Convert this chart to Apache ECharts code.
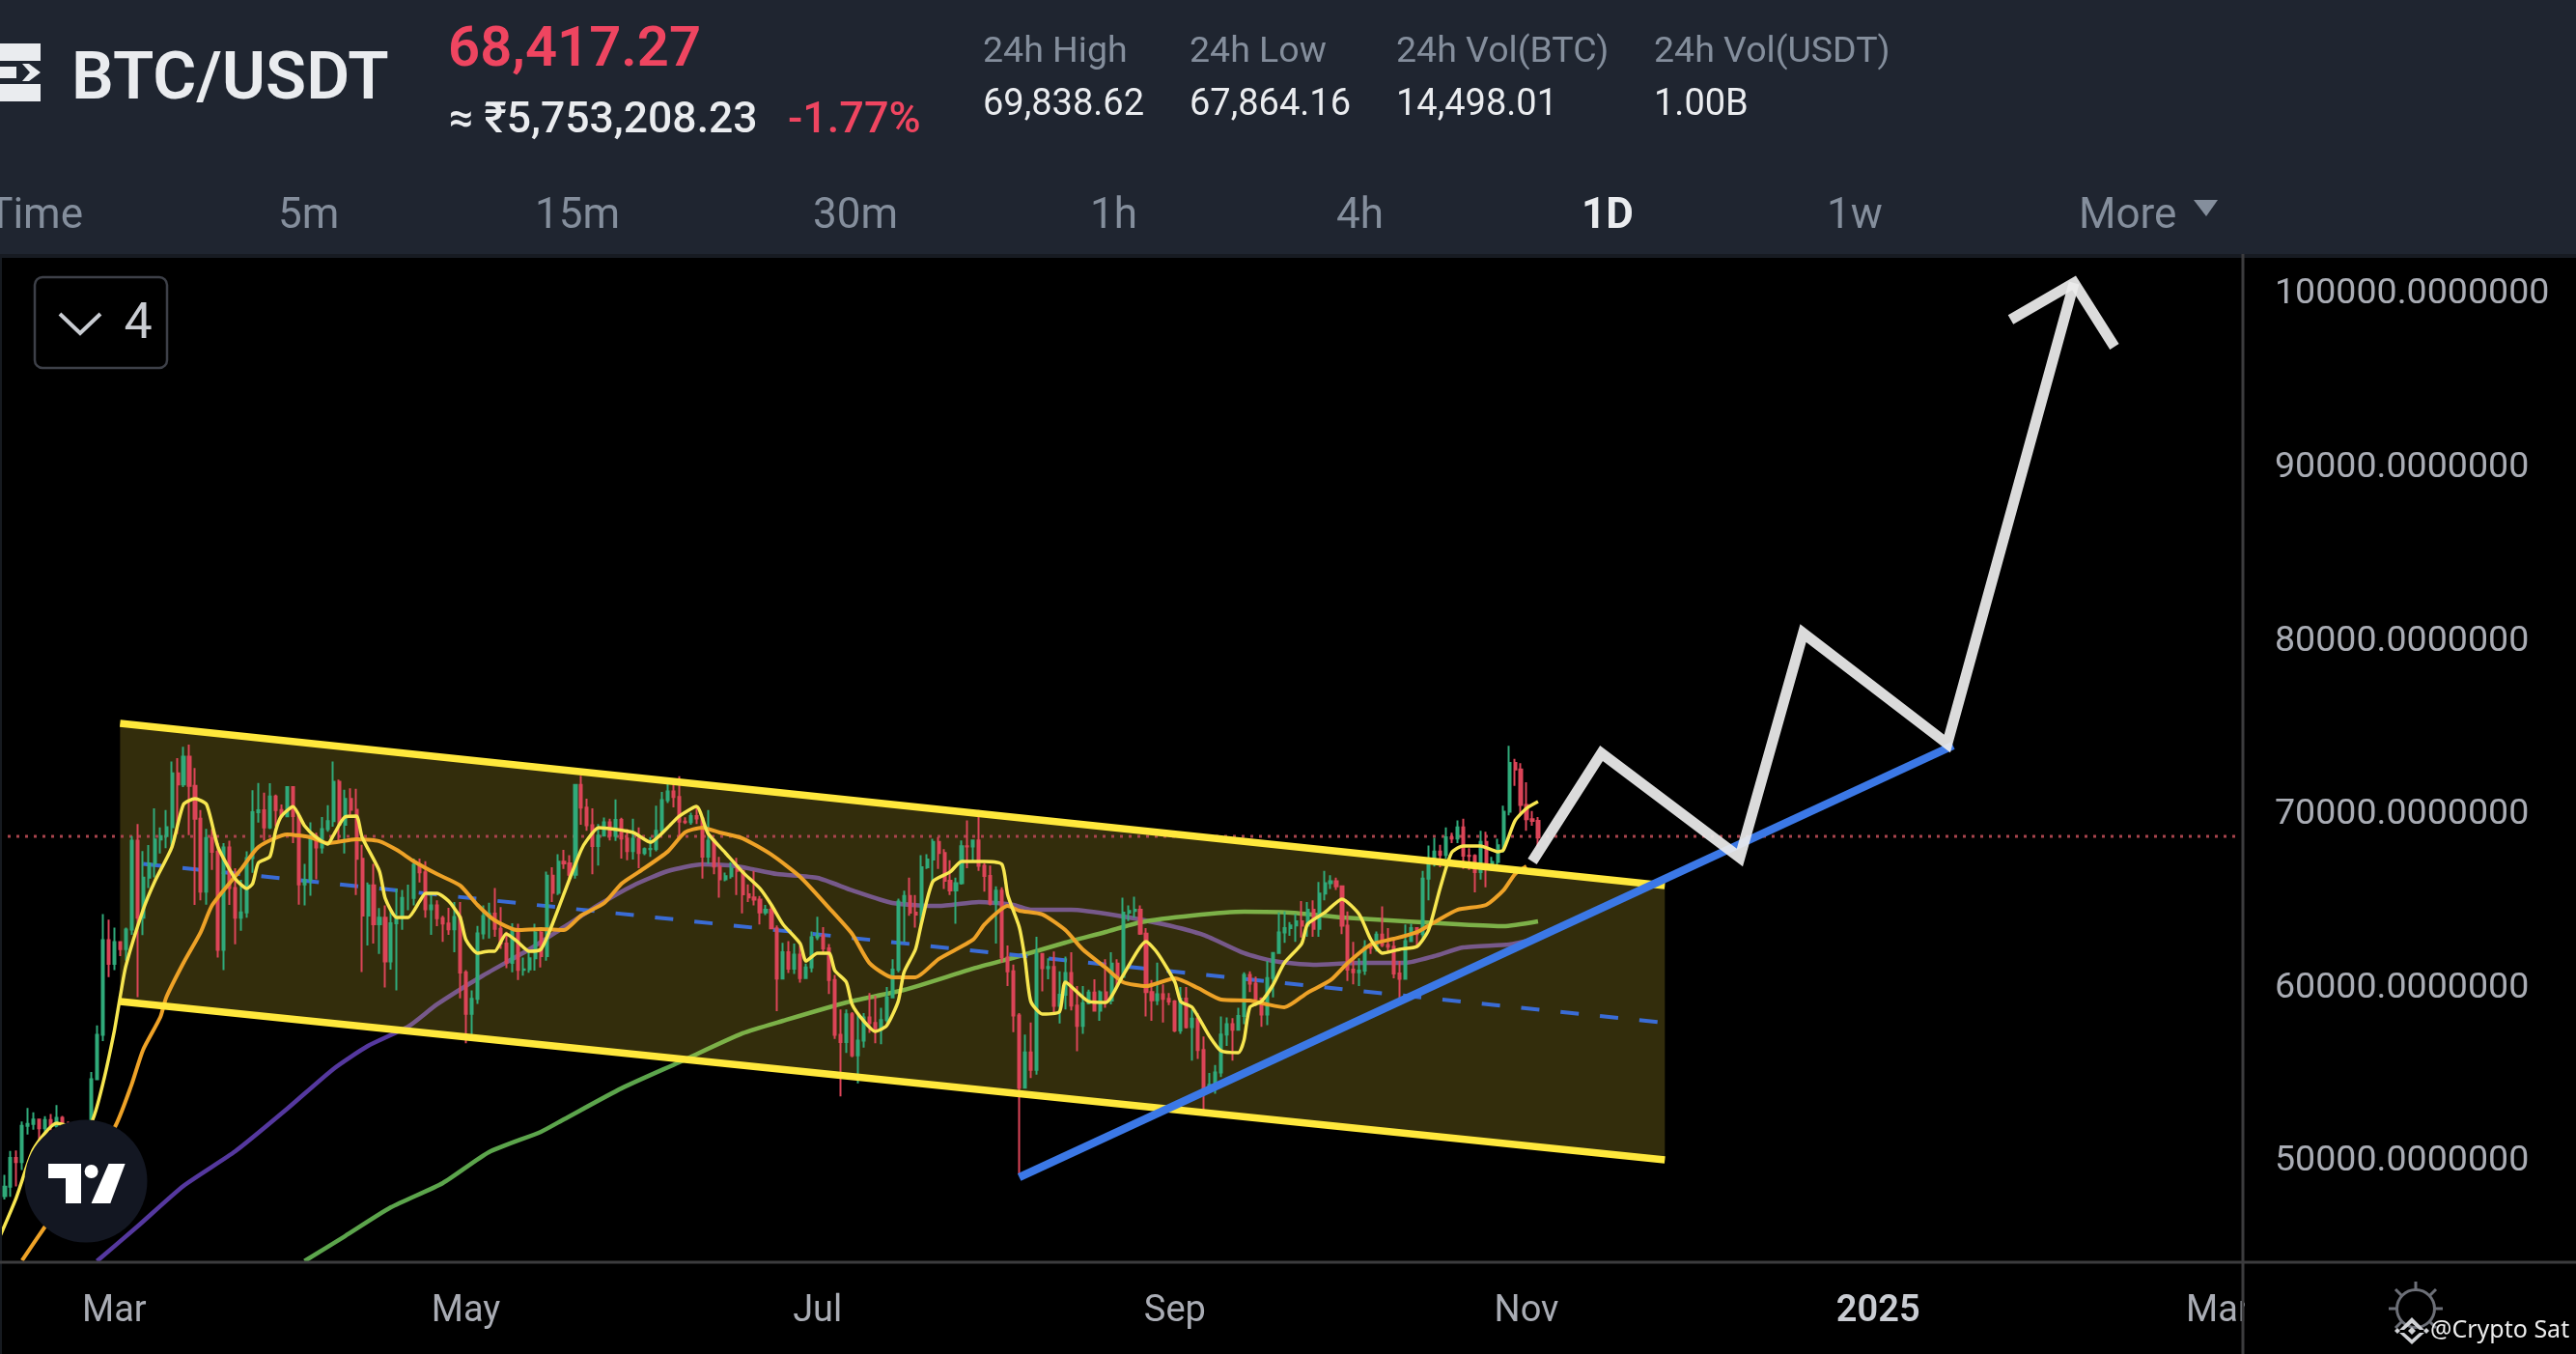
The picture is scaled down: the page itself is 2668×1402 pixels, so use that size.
<!DOCTYPE html>
<html><head><meta charset="utf-8">
<style>html,body{margin:0;padding:0;background:#000}#c{width:2668px;height:1402px}</style>
<script src="https://cdn.jsdelivr.net/npm/echarts@6/dist/echarts.min.js"></script>
</head><body><div id="c"></div>
<script>
const firstDate = '2024-02-10';
const dayCount = 389;
const xTickDates = ['2024-03-01','2024-05-01','2024-07-01','2024-09-01','2024-11-01','2025-01-01','2025-03-01'];
const xTickLabels = ['Mar','May','Jul','Sep','Nov','2025','Mar'];
const yTickValues = [50000,60000,70000,80000,90000,100000];
const firstOpen = 47150;
const closes = [
47750,48290,49950,49700,51800,51900,52150,51650,52130,51780,52260,51850,51320,50740,51570,51730,54480,57040,62500,61130,
62390,61990,63110,68240,63800,66100,66930,68300,68500,69020,72120,71480,73080,71390,69500,65300,68390,67600,61940,67840,65500,63800,64100,67230,69880,69990,69000,70780,70000,69640,71330,
69650,65710,65980,68500,67840,68900,69360,71630,69150,70640,70010,67190,63920,65660,63420,63790,61280,63470,63820,64940,64940,66840,66410,64280,64500,63770,63460,63120,63840,60640,
58250,59120,62890,63890,64030,63160,62310,61190,63070,60790,60820,61450,62940,61580,66220,65230,67020,66920,66270,71450,70140,69120,67930,68530,69290,68510,69430,68360,67630,68350,67530,
67750,67760,68800,70570,71080,70760,69340,69310,69650,69510,67320,68240,66750,66010,66190,66640,66490,65150,64960,64840,64100,64250,63180,60280,61800,60860,61670,60320,60920,62670,
62770,62020,60200,57040,56630,58230,55860,56710,58050,57720,57340,57890,59200,60800,64720,65040,64090,63970,66710,67150,68160,67530,65930,65370,65780,67910,67900,68250,66780,66200,64620,
65350,61500,60700,58160,53990,56030,55030,61710,60880,60950,58710,59350,60610,58730,57560,58870,59480,58440,59490,59020,61150,60380,64090,64180,64250,62880,59500,59030,59380,59120,58970,
57300,59130,57490,57970,56160,53950,54160,54870,57050,57650,57340,58130,60500,60000,59130,58210,60310,61760,62950,63200,63350,63580,63340,64260,63150,65180,65790,65890,65600,63330,
60800,60650,60750,62090,62060,62820,62220,62130,60580,60270,62450,63200,62850,66050,67040,67610,67420,68430,68360,69000,67370,67360,66430,68160,66640,67010,67970,69910,72720,72340,70290,
69480,69370,68417];
const highs = [
48170,48970,50350,50370,52040,52820,52580,52200,52350,52480,52990,52370,52050,51550,51950,51950,54900,57590,64000,63680,
63230,62430,63230,68500,69200,67640,67980,70100,69000,70000,72800,73000,73650,73777,72420,70000,68920,68900,68100,68100,68240,66650,65980,67620,71150,71560,71000,71550,70900,70320,71370,
71340,69670,66900,69290,68700,69600,70280,72800,71750,71170,71250,71230,68000,65830,66900,64350,64500,64300,65480,65400,65700,67200,67200,67050,65280,64800,63900,64370,64700,64700,
60780,59600,63320,64500,64650,65500,64400,62980,63470,63450,61500,61850,63440,63100,66450,66700,67450,67700,67400,71500,71980,70650,70100,69200,69570,69500,70620,69550,68900,69500,69000,
67850,68450,70250,71050,71750,71650,71950,69580,69850,70150,69550,70000,68370,67300,66400,67000,67250,66500,65720,66500,65050,64530,64500,63350,62350,62450,62300,62200,61150,63000,
63850,63250,62280,60500,58500,58500,58350,58250,58300,59450,59300,58600,59800,61400,64900,65350,66100,65100,67400,67450,68350,68450,67750,67100,66100,68250,69400,68300,70000,66950,66800,
65600,65550,62200,61100,58300,57050,57750,62700,61750,61450,61850,60700,61550,61800,59850,59850,59650,60250,59600,61400,61800,61400,64950,64500,65000,64500,63200,60200,61200,59950,59450,
59050,59800,59800,58500,58300,56950,54850,55300,58100,58050,58000,58600,60650,60700,60400,59200,61300,61800,64100,64150,63550,64000,64750,64700,64800,65850,66500,66250,66100,65650,
64150,62400,61450,62500,62350,63000,64450,63200,62550,61300,63400,63450,63250,66500,67950,68400,68000,69000,68700,69400,69500,67800,67450,68800,68750,67300,68350,70250,73700,72950,72700,
71600,69950,69600];
const lows = [
46800,47550,47700,48300,49250,51300,51570,50620,51180,51550,50900,50630,50930,50520,50700,51280,50900,54450,56680,60370,
60770,61580,61320,62800,59220,62790,65500,66120,67500,67800,67900,68620,71330,68550,64530,64800,64550,66550,61500,60780,64530,62260,63040,63800,66380,69280,68240,68900,69050,69550,69600,
68100,64550,64500,65060,66010,67500,68750,69040,68200,67500,69550,65100,60660,62200,62300,61700,59770,60800,59600,63100,64230,64500,65820,63800,62800,63300,62400,62800,61800,59150,
56550,56950,58830,62560,62600,62700,62000,60880,60650,60200,60450,60620,60750,60920,61320,64700,65100,66600,65900,66050,69150,68800,66300,66800,68500,68250,68220,67200,67100,67150,66650,
67400,67300,67620,68600,70400,70150,68500,69200,69150,69200,66050,66900,66300,64950,65900,66050,65100,64050,64700,64500,63400,63950,63150,58400,60250,60600,60550,60050,60300,60650,
62500,61800,59400,56800,53500,56000,55750,54250,56300,57150,56550,56500,57750,59250,60650,62400,63900,63230,63300,66600,65800,66600,65450,65100,63450,65700,66650,67050,66500,65300,64500,
62300,61200,59850,57200,49000,53950,54550,54750,59550,60250,58300,57700,58500,58450,56100,57100,58800,58400,57850,58600,58800,59800,60350,63600,63800,62800,58100,57850,58750,57750,58750,
57200,57100,57400,55550,55650,52550,53750,53650,54600,56400,55550,57300,57650,59500,58700,57500,57600,59200,61700,62350,62750,62400,62650,62700,62700,62700,64800,65450,65400,62850,
60150,59950,59850,60500,61700,61850,62100,61850,60300,58900,60400,62400,62050,62450,64800,66750,66700,67200,68100,68100,66600,66550,65250,66000,65550,66500,66850,67550,69700,71400,69700,
68800,69100,67900];
const ma7Days = [0,3,6,10,13,16,18,20,21,22,25,27,30,32,34,36,38,41,43,44,45,47,48,49,51,53,55,57,58,60,62,63,66,67,69,71,73,74,76,78,80,81,83,85,86,88,90,92,94,96,99,101,102,104,110,113,116,118,121,123,126,129,132,134,136,139,140,142,144,145,147,148,150,152,154,156,157,159,160,162,165,167,171,174,175,177,178,179,181,184,185,189,192,195,199,201,204,205,207,210,212,215,216,217,219,221,223,226,227,230,233,236,238,240,243,246,248,250,252,254,257,260,261,263,265,267];
const ma7Values = [45300,47660,50450,51950,51730,51990,54200,57260,59200,61000,64250,65870,67870,70320,70660,70320,67870,66040,65480,65760,66960,67320,68820,69650,70200,69100,68430,68040,68540,69600,69650,68430,66480,64920,63810,63810,64750,65200,65200,64750,63810,62530,61750,61860,61860,62860,62400,61860,61970,63420,66040,67700,68260,68990,68710,68150,68990,69650,70210,68650,67540,66430,65480,64530,63420,62300,61300,61750,61750,60750,60080,58800,57850,57240,57570,58970,60640,61970,63420,65870,66430,67040,67040,66870,65100,63250,61410,58970,58240,58380,60080,58970,58910,60470,62420,61750,60080,58970,58630,56960,56120,56010,56740,58630,58970,59910,61190,62300,63420,64090,64870,63980,62530,61750,61970,62140,63080,65480,67540,67930,67930,67600,67700,69380,70100,70490];
const ma25Days = [4,8,20,23,25,28,29,32,35,37,42,45,50,54,57,62,66,69,72,76,80,83,86,90,94,98,101,105,108,111,116,119,122,125,129,134,139,144,148,151,155,159,163,169,171,175,177,181,185,188,192,195,199,204,208,212,217,220,223,227,231,234,238,242,246,249,253,258,261,263,265];
const ma25Values = [44040,45990,51670,54170,56180,58070,59190,61190,62970,64530,66590,67870,68600,68430,68090,68320,68200,67700,67040,66310,65650,64530,63640,63080,63140,63080,63920,64640,65760,66430,67600,68710,68990,68710,68370,67430,66150,64360,62860,61190,60360,60360,61410,62530,63420,64470,64200,63980,63080,61970,60910,60080,59850,60300,59740,59080,59020,58800,58630,59470,60190,61190,62250,62580,62970,63530,64250,64530,65370,66310,66760];
const ma99Days = [17,24,32,41,50,58,64,71,76,84,92,98,104,110,116,122,128,135,142,148,155,163,170,176,179,186,194,202,209,216,221,228,236,244,249,254,262,266];
const ma99Values = [44000,45990,48330,50330,52780,55070,56400,57520,58800,60470,61970,63250,64530,65650,66480,66870,66760,66310,66090,65370,64640,64470,64700,64530,64250,64250,63920,63420,62800,61750,61300,61080,61190,61190,61580,62080,62250,62530];
const ma200Days = [53,60,68,77,85,94,98,108,118,129,136,147,157,169,177,185,192,198,207,216,224,233,244,253,261,267];
const ma200Values = [44000,45430,47100,48500,50280,51450,52170,53960,55460,57130,57850,58910,59630,60860,61580,62360,62970,63530,63920,64140,64090,63810,63590,63420,63310,63590];
const channelTopDays = [21,289];
const channelTopPrices = [75000,65646];
const channelBottomDays = [21,289];
const channelBottomPrices = [58964,49832];
const channelMidDays = [25,289];
const channelMidPrices = [66893,57739];
const trendDays = [177,339];
const trendPrices = [48830,73719];
const forecastDays = [266,278,302,313,338,360];
const forecastPrices = [67040,73274,67260,80200,73830,100390];
const arrowDays = [349,360,367];
const arrowPrices = [98274,100390,96715];
const lastPrice = 68480;

const DAY = 86400000;
const start = Date.parse(firstDate + 'T00:00:00Z');
const categories = [];
for (let i = 0; i < dayCount; i++) categories.push(new Date(start + i * DAY).toISOString().slice(0, 10));
const zip = (a, b) => a.map((v, i) => [v, b[i]]);
const candles = closes.map((c, i) => [i ? closes[i - 1] : firstOpen, c, lows[i], highs[i]]);

const FONT = 'Roboto, "Noto Sans", sans-serif';
const lineSeries = (name, days, vals, color, width, z, extra) => Object.assign({
  type: 'line', name, data: zip(days, vals), showSymbol: false, symbol: 'none', silent: true, z,
  lineStyle: Object.assign({ color, width, join: 'miter', cap: 'butt', miterLimit: 30 }, extra && extra.ls || {}),
  smooth: extra && extra.smooth || false
});

const T = (text, x, y, fill, size, weight, align) => ({
  type: 'text', x, y, z: 100, silent: true,
  style: { text, fill, font: (weight || 400) + ' ' + size + 'px ' + FONT, align: align || 'left', verticalAlign: 'middle' }
});
const R = (x, y, width, height, fill, z) => ({ type: 'rect', z: z || 50, silent: true, shape: { x, y, width, height }, style: { fill } });
const L = (x1, y1, x2, y2, stroke, lineWidth, z) => ({ type: 'line', z: z || 60, silent: true, shape: { x1, y1, x2, y2 }, style: { stroke, lineWidth } });
const P = (points, fill, z) => ({ type: 'polygon', z: z || 100, silent: true, shape: { points }, style: { fill } });

const GR = '#848e9c', WH = '#eaecef', RED = '#ef4560';
const graphics = [
  R(0, 0, 2668, 263, '#1f2530', 40),
  R(0, 263, 2668, 4, '#171b22', 40),
  R(0, 267, 2, 1135, '#161a20', 40),
  L(0, 1307, 2668, 1307, '#3c3c3e', 3),
  R(2325, 1309, 343, 93, '#000000', 55),
  L(2323, 263, 2323, 1402, '#3c3c3e', 3),
  // exchange mark
  R(0, 45, 42, 18, WH, 100), R(0, 87, 42, 18, WH, 100), R(0, 69, 17, 12, WH, 100),
  P([[23, 66], [30, 66], [42, 75], [30, 84], [23, 84], [31, 75]], WH),
  T('BTC/USDT', 74, 85, WH, 69, 600),
  T('68,417.27', 464, 53, RED, 58, 600),
  T('≈ ₹5,753,208.23', 465, 126, WH, 44.5, 500),
  T('-1.77%', 816, 126, RED, 45, 500),
  T('24h High', 1018, 55, GR, 37.5), T('69,838.62', 1018, 109, WH, 38),
  T('24h Low', 1232, 55, GR, 37.5), T('67,864.16', 1232, 109, WH, 38),
  T('24h Vol(BTC)', 1446, 55, GR, 37.5), T('14,498.01', 1446, 109, WH, 38),
  T('24h Vol(USDT)', 1713, 55, GR, 37.5), T('1.00B', 1713, 109, WH, 38),
  T('Time', 86, 225, GR, 44, 400, 'right'),
  T('5m', 288, 225, GR, 44), T('15m', 554, 225, GR, 44), T('30m', 842, 225, GR, 44),
  T('1h', 1129, 225, GR, 44), T('4h', 1384, 225, GR, 44), T('1D', 1638, 225, WH, 44, 700),
  T('1w', 1892, 225, GR, 44), T('More', 2153, 225, GR, 44),
  P([[2272, 207], [2297, 207], [2285, 224]], GR),
  // collapse box
  { type: 'rect', z: 100, silent: true, shape: { x: 36, y: 287, width: 137, height: 94, r: 8 }, style: { fill: 'none', stroke: '#3d4048', lineWidth: 2.5 } },
  { type: 'polyline', z: 100, silent: true, shape: { points: [[62, 325], [83, 345], [104, 325]] }, style: { fill: 'none', stroke: '#c9ccd2', lineWidth: 4 } },
  T('4', 143, 337, '#c9ccd2', 52, 400, 'center'),
  // TradingView badge
  { type: 'circle', z: 100, silent: true, shape: { cx: 89, cy: 1223, r: 63.5 }, style: { fill: '#131722' } },
  P([[50, 1205], [84, 1205], [84, 1246], [68, 1246], [68, 1220], [50, 1220]], '#ffffff', 101),
  { type: 'circle', z: 101, silent: true, shape: { cx: 94.6, cy: 1213, r: 7 }, style: { fill: '#ffffff' } },
  P([[112.5, 1205], [129.6, 1205], [114.3, 1246], [94.6, 1246]], '#ffffff', 101),
  // lightbulb
  { type: 'circle', z: 70, silent: true, shape: { cx: 2502, cy: 1355, r: 19.5 }, style: { fill: 'none', stroke: '#6c6f77', lineWidth: 3 } },
  L(2502, 1327, 2502, 1336, '#6c6f77', 3, 70), L(2474, 1355, 2483, 1355, '#6c6f77', 3, 70), L(2521, 1355, 2530, 1355, '#6c6f77', 3, 70),
  L(2481, 1335, 2488, 1342, '#6c6f77', 3, 70), L(2523, 1335, 2516, 1342, '#6c6f77', 3, 70),
  L(2481, 1375, 2488, 1368, '#6c6f77', 3, 70), L(2523, 1375, 2516, 1368, '#6c6f77', 3, 70),
  // mark + handle
  P([[2498, 1364], [2511, 1377], [2506, 1377], [2498, 1370], [2490, 1377], [2485, 1377]], '#d0d2d6', 80),
  P([[2498, 1392], [2511, 1380], [2506, 1380], [2498, 1387], [2490, 1380], [2485, 1380]], '#d0d2d6', 80),
  P([[2498, 1374], [2502, 1378], [2498, 1382], [2494, 1378]], '#d0d2d6', 80),
  P([[2513, 1375], [2516, 1378], [2513, 1381], [2510, 1378]], '#d0d2d6', 80),
  P([[2483, 1375], [2486, 1378], [2483, 1381], [2480, 1378]], '#d0d2d6', 80),
  { type: 'text', x: 2517, y: 1378, z: 100, silent: true, style: { text: '@Crypto Sat', fill: '#ececec', font: '400 25px "Noto Sans", sans-serif', align: 'left', verticalAlign: 'middle' } }
];

const chart = echarts.init(document.getElementById('c'), null, { renderer: 'canvas', width: 2668, height: 1402 });
chart.setOption({
  animation: false,
  backgroundColor: '#000000',
  grid: { left: -4, right: 349.7, top: 266, bottom: 95, containLabel: false, outerBoundsMode: 'none' },
  xAxis: {
    type: 'category', data: categories, boundaryGap: true,
    axisLine: { show: false }, axisTick: { show: false }, splitLine: { show: false },
    axisLabel: {
      interval: (i, name) => xTickDates.includes(name),
      margin: 32, color: '#a9acb4', fontFamily: FONT, fontSize: 38, hideOverlap: false,
      formatter: name => {
        const lab = xTickLabels[xTickDates.indexOf(name)];
        return lab === '2025' ? '{b|2025}' : lab;
      },
      rich: { b: { fontFamily: FONT, fontSize: 38, fontWeight: 600, color: '#c9ccd2' } }
    }
  },
  yAxis: {
    type: 'value', position: 'right', min: 43930, max: 101893, scale: true,
    axisLine: { show: false }, axisTick: { show: false }, splitLine: { show: false },
    axisLabel: {
      customValues: yTickValues, margin: 37.7, color: '#a9acb4', fontFamily: FONT, fontSize: 37.6,
      verticalAlign: 'top', lineHeight: 10,
      formatter: v => Number(v).toFixed(7)
    }
  },
  series: [
    lineSeries('MA99', ma99Days, ma99Values, '#55389f', 4.5, 2, { smooth: 0.2 }),
    lineSeries('MA200', ma200Days, ma200Values, '#5ca54c', 4.5, 2, { smooth: 0.2 }),
    {
      type: 'custom', name: 'Channel fill', silent: true, z: 3, clip: false,
      data: [[channelTopDays[0], channelTopPrices[0], channelTopDays[1], channelTopPrices[1], channelBottomDays[1], channelBottomPrices[1], channelBottomDays[0], channelBottomPrices[0]]],
      encode: { x: [0, 2, 4, 6], y: [1, 3, 5, 7] },
      renderItem: (params, api) => ({
        type: 'polygon',
        shape: { points: [0, 2, 4, 6].map(k => api.coord([api.value(k), api.value(k + 1)])) },
        style: { fill: 'rgba(255,225,60,0.2)' }
      })
    },
    lineSeries('Last price', [0, dayCount - 1], [lastPrice, lastPrice], '#a9444d', 3, 4, { ls: { type: [3, 6] } }),
    lineSeries('Channel mid', channelMidDays, channelMidPrices, '#3a6cd6', 4, 4, { ls: { type: [19, 22] } }),
    {
      type: 'candlestick', name: 'BTC/USDT', data: candles, barWidth: 2.6, z: 5, silent: true,
      itemStyle: { color: '#30aa7a', color0: '#dc4558', borderColor: '#30aa7a', borderColor0: '#dc4558', borderWidth: 2 }
    },
    lineSeries('MA25', ma25Days, ma25Values, '#eea227', 4, 6, { smooth: 0.2 }),
    lineSeries('MA7', ma7Days, ma7Values, '#f7e650', 3.5, 7, { smooth: 0.2 }),
    lineSeries('Channel top', channelTopDays, channelTopPrices, '#ffe83c', 7.5, 8),
    lineSeries('Channel bottom', channelBottomDays, channelBottomPrices, '#ffe83c', 7.5, 8),
    lineSeries('Trend', trendDays, trendPrices, '#3b78e6', 8.5, 9),
    lineSeries('Forecast', forecastDays, forecastPrices, 'rgba(236,236,236,0.93)', 11, 10),
    lineSeries('Arrow head', arrowDays, arrowPrices, 'rgba(236,236,236,0.93)', 11, 10)
  ],
  graphic: { elements: graphics }
});
</script></body></html>
